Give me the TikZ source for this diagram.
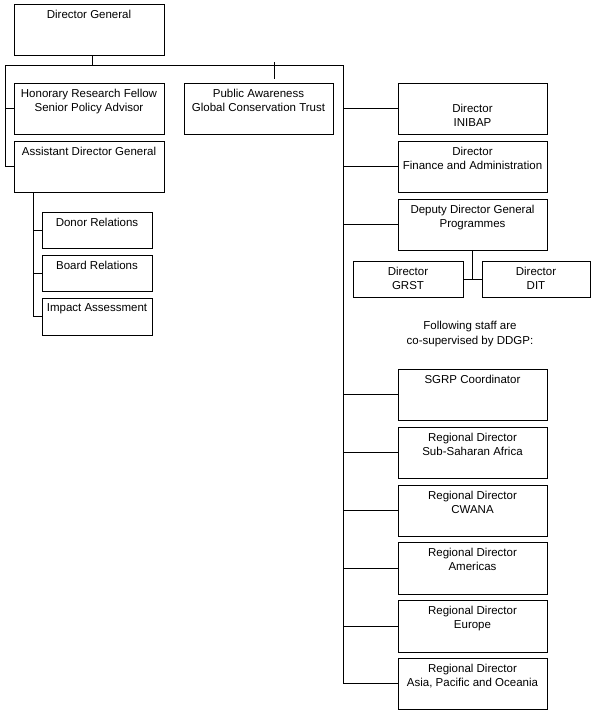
\documentclass[tikz,border=0pt]{standalone}
\usepackage{fontspec}
\setmainfont{Liberation Sans}
\begin{document}
\begin{tikzpicture}[
        x=1pt,
        y=-1pt,
        line width=0.9pt,
        orgbox/.style={draw=black, anchor=north west, inner sep=0pt, outer sep=0pt},
        boxtext/.style={anchor=north, align=center, inner sep=0pt, yshift=-5.5pt,
            font=\fontsize{11.5}{14.5}\selectfont}]
\useasboundingbox (0,0) rectangle (593,713);
% left side
\node[orgbox, minimum width=150, minimum height=51,
    label={[boxtext]north:{Director General}}] (dg) at (14,4) {};
\node[orgbox, minimum width=150, minimum height=51,
    label={[boxtext]north:{Honorary Research Fellow\\Senior Policy Advisor}}] (hrf) at (14,83) {};
\node[orgbox, minimum width=149, minimum height=51,
    label={[boxtext]north:{Public Awareness\\Global Conservation Trust}}] (pa) at (184,83) {};
\node[orgbox, minimum width=150, minimum height=51,
    label={[boxtext]north:{Assistant Director General}}] (adg) at (14,141) {};
\node[orgbox, minimum width=110, minimum height=36,
    label={[boxtext]north:{Donor Relations}}] (donor) at (42,212) {};
\node[orgbox, minimum width=110, minimum height=36,
    label={[boxtext]north:{Board Relations}}] (board) at (42,255) {};
\node[orgbox, minimum width=110, minimum height=37,
    label={[boxtext]north:{Impact Assessment}}] (impact) at (42,298) {};
% right side
\node[orgbox, minimum width=149, minimum height=51,
    label={[boxtext, yshift=-15pt]north:{Director\\INIBAP}}] (inibap) at (398,83) {};
\node[orgbox, minimum width=149, minimum height=51,
    label={[boxtext]north:{Director\\Finance and Administration}}] (fin) at (398,141) {};
\node[orgbox, minimum width=149, minimum height=51,
    label={[boxtext]north:{Deputy Director General\\Programmes}}] (ddgp) at (398,199) {};
\node[orgbox, minimum width=110, minimum height=36,
    label={[boxtext]north:{Director\\GRST}}] (grst) at (353,261) {};
\node[orgbox, minimum width=108, minimum height=36,
    label={[boxtext]north:{Director\\DIT}}] (dit) at (482,261) {};
\node[align=center, inner sep=0pt, font=\fontsize{11.5}{14.5}\selectfont] (cosup) at (470,334)
    {Following staff are\\co-supervised by DDGP:};
\node[orgbox, minimum width=149, minimum height=51,
    label={[boxtext]north:{SGRP Coordinator}}] (sgrp) at (398,369) {};
\node[orgbox, minimum width=149, minimum height=51,
    label={[boxtext]north:{Regional Director\\Sub-Saharan Africa}}] (ssa) at (398,427) {};
\node[orgbox, minimum width=149, minimum height=51,
    label={[boxtext]north:{Regional Director\\CWANA}}] (cwana) at (398,485) {};
\node[orgbox, minimum width=149, minimum height=52,
    label={[boxtext]north:{Regional Director\\Americas}}] (amer) at (398,542) {};
\node[orgbox, minimum width=149, minimum height=52,
    label={[boxtext]north:{Regional Director\\Europe}}] (europe) at (398,600) {};
\node[orgbox, minimum width=149, minimum height=51,
    label={[boxtext]north:{Regional Director\\Asia, Pacific and Oceania}}] (asia) at (398,658) {};
% connectors
\coordinate (busL) at (5,65);
\coordinate (busR) at (343,65);
\coordinate (pastub) at (274,62);
\coordinate (adgdrop) at (33,192);
\draw ([xshift=3pt]dg.south) -- ([xshift=3pt]dg.south |- busL);
\draw (busL) -- (busR);
\draw (pastub) -- ++(0,17);
\draw (busL) |- (adg.west);
\draw (hrf.west) -- (busL |- hrf.west);
\draw (busR) |- (asia.west);
\foreach \Box in {inibap, fin, ddgp, sgrp, ssa, cwana, amer, europe}{
    \draw (\Box.west) -- (busR |- \Box.west);
}
\draw (adgdrop) |- (impact.west);
\foreach \Box in {donor, board}{
    \draw (\Box.west) -- (adgdrop |- \Box.west);
}
\draw (ddgp.south) -- (ddgp.south |- grst.east);
\draw (grst.east) -- (dit.west);
\end{tikzpicture}
\end{document}
